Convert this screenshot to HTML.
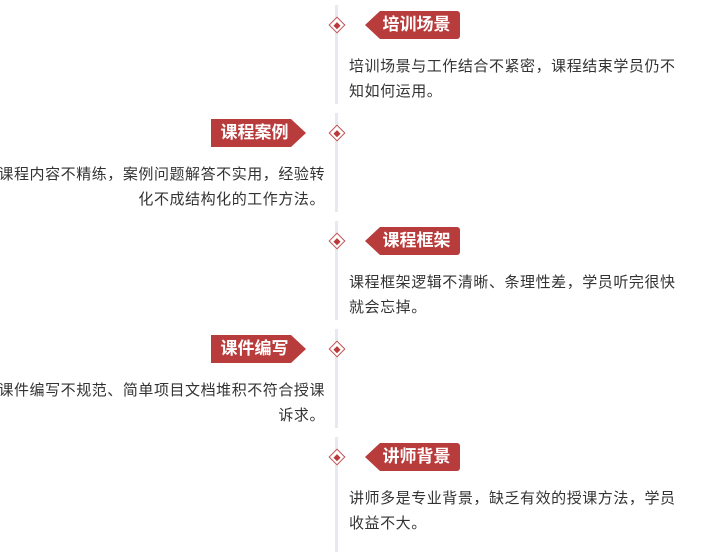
<!DOCTYPE html>
<html><head><meta charset="utf-8"><style>
body{margin:0;width:706px;height:552px;background:#fff;position:relative;overflow:hidden;font-family:"Liberation Sans","Noto Sans CJK SC",sans-serif;}
.seg{position:absolute;left:335px;width:3px;background:#e8e8f0;}
.dia{position:absolute;width:10px;height:10px;border:1px solid #c05050;transform:rotate(45deg);background:#fff;}
.dia::after{content:"";position:absolute;left:2.5px;top:2.5px;width:5px;height:5px;background:#b93a3a;}
.tag{position:absolute;height:28px;line-height:28px;color:#fff;font-weight:bold;font-size:17px;background:#b93c3c;text-align:center;}
.tr{left:365px;width:95px;clip-path:polygon(0 50%,15px 0,100% 0,100% 100%,15px 100%);padding-left:8px;box-sizing:border-box;border-radius:0 3px 3px 0;}
.tl{left:211px;width:95px;clip-path:polygon(0 0,calc(100% - 15px) 0,100% 50%,calc(100% - 15px) 100%,0 100%);padding-right:8px;box-sizing:border-box;}
.txt{position:absolute;font-size:15px;letter-spacing:0.55px;line-height:25px;color:#333;width:345px;white-space:nowrap;}
.r{left:349px;}
.l{right:381px;text-align:right;}
</style></head><body>
<div class="seg" style="top:5px;height:99px"></div>
<div class="seg" style="top:113px;height:99px"></div>
<div class="seg" style="top:221px;height:99px"></div>
<div class="seg" style="top:329px;height:99px"></div>
<div class="seg" style="top:437px;height:115px"></div>

<div class="dia" style="left:331px;top:19px"></div>
<div class="dia" style="left:331px;top:127px"></div>
<div class="dia" style="left:331px;top:235px"></div>
<div class="dia" style="left:331px;top:343px"></div>
<div class="dia" style="left:331px;top:451px"></div>

<div class="tag tr" style="top:11px">培训场景</div>
<div class="txt r" style="top:54px">培训场景与工作结合不紧密，课程结束学员仍不<br>知如何运用。</div>

<div class="tag tl" style="top:119px">课程案例</div>
<div class="txt l" style="top:162px">课程内容不精练，案例问题解答不实用，经验转<br>化不成结构化的工作方法。</div>

<div class="tag tr" style="top:227px">课程框架</div>
<div class="txt r" style="top:270px">课程框架逻辑不清晰、条理性差，学员听完很快<br>就会忘掉。</div>

<div class="tag tl" style="top:335px">课件编写</div>
<div class="txt l" style="top:378px">课件编写不规范、简单项目文档堆积不符合授课<br>诉求。</div>

<div class="tag tr" style="top:443px">讲师背景</div>
<div class="txt r" style="top:486px">讲师多是专业背景，缺乏有效的授课方法，学员<br>收益不大。</div>
</body></html>
